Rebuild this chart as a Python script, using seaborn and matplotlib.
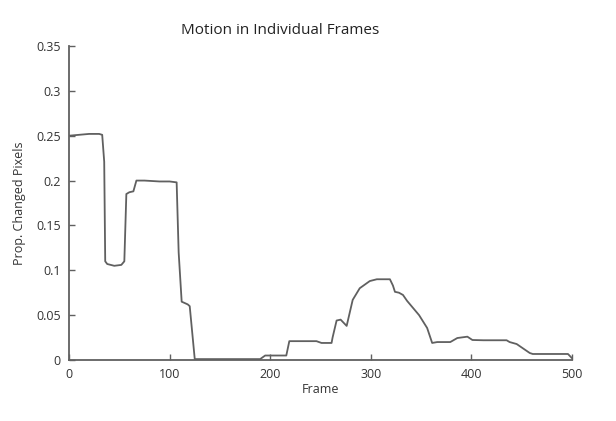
import matplotlib
matplotlib.use("Agg")
import matplotlib.pyplot as plt
import seaborn as sns
import pandas as pd

frames = [0, 10, 20, 30, 33, 35, 36, 38, 45, 52, 55, 57, 60, 64, 67, 75, 90, 100, 107,
          109, 112, 118, 120, 125, 150, 190, 195, 216, 219, 230, 246, 251, 261, 262,
          266, 270, 276, 282, 289, 299, 306, 319, 322, 324, 328, 332, 336, 342, 348,
          356, 361, 366, 379, 386, 396, 401, 412, 435, 438, 445, 458, 461, 496, 500]
motion = [0.250, 0.251, 0.252, 0.252, 0.251, 0.221, 0.110, 0.107, 0.105, 0.106, 0.110, 0.185,
          0.187, 0.188, 0.200, 0.200, 0.199, 0.199, 0.198,
          0.120, 0.065, 0.062, 0.060, 0.001, 0.001, 0.001, 0.005, 0.005, 0.021, 0.021,
          0.021, 0.019, 0.019, 0.025, 0.044, 0.045, 0.038, 0.067, 0.080, 0.088, 0.090,
          0.090, 0.083, 0.076, 0.075, 0.0725, 0.066, 0.058, 0.050,
          0.0357, 0.019, 0.020, 0.020,
          0.0245, 0.026, 0.0223, 0.022, 0.022, 0.020, 0.0178, 0.0078, 0.0067, 0.0067, 0.002]

df = pd.DataFrame({"Frame": frames, "Prop": motion})

sns.set_theme(style="white")
plt.rcParams['font.family'] = ['Open Sans', 'DejaVu Sans']

fig = plt.figure(figsize=(6.16, 4.21), dpi=100)
ax = fig.add_axes([69/616, 1 - 360/421, (572-69)/616, (360-46)/421])
col = "#606060"
sns.lineplot(data=df, x="Frame", y="Prop", ax=ax, color=col, linewidth=1.3)
ax.set_xlim(0, 500)
ax.set_ylim(0, 0.35)
ax.set_xticks([0, 100, 200, 300, 400, 500])
ax.set_yticks([0, 0.05, 0.1, 0.15, 0.2, 0.25, 0.3, 0.35])
ax.set_yticklabels(["0", "0.05", "0.1", "0.15", "0.2", "0.25", "0.3", "0.35"])
for s in ["top", "right"]:
    ax.spines[s].set_visible(False)
for s in ["left", "bottom"]:
    ax.spines[s].set_color(col)
    ax.spines[s].set_linewidth(1.3)
ax.tick_params(bottom=True, left=True, direction="in", length=4, width=1.0,
               color=col, labelcolor="#333333", labelsize=9, pad=6)
ax.set_xlabel("Frame", fontsize=9, color="#333333", labelpad=1)
ax.set_ylabel("Prop. Changed Pixels", fontsize=9, color="#333333", labelpad=7)
fig.text(280/616, 1 - 31/421, "Motion in Individual Frames", ha="center", va="center",
         fontsize=11, color="#222222")
fig.savefig("out.png", dpi=100)
